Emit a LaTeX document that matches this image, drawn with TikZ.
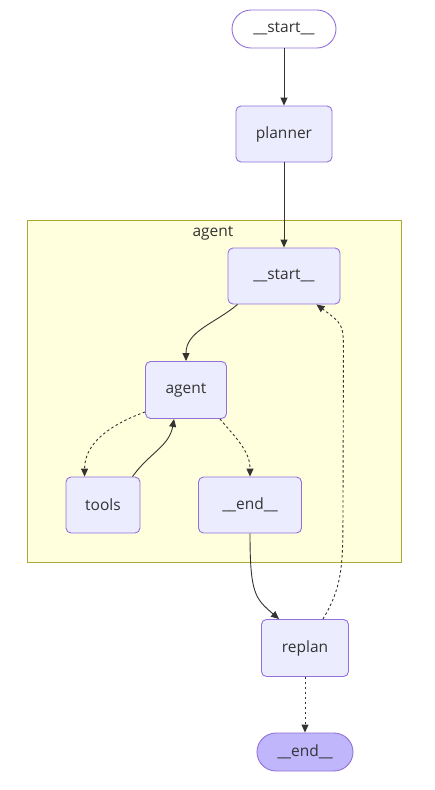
\documentclass[tikz,border=0pt]{standalone}
\usepackage{fontspec}
\setmainfont{Open Sans}
\usetikzlibrary{arrows.meta,calc,shapes.misc}
\definecolor{nodefill}{HTML}{ECECFF}
\definecolor{nodedraw}{HTML}{9370DB}
\definecolor{clfill}{HTML}{FFFFDE}
\definecolor{cldraw}{HTML}{AAAA33}
\definecolor{lastfill}{HTML}{BFB6FC}
\definecolor{edge}{HTML}{333333}
\tikzset{
  box/.style={draw=nodedraw, fill=nodefill, rounded corners=5pt, line width=0.9pt,
    minimum height=56pt, font=\fontsize{15.5}{18}\selectfont, text=edge, inner sep=0pt},
  pill/.style={draw=nodedraw, rounded rectangle, line width=0.9pt, minimum height=38pt,
    font=\fontsize{15.5}{18}\selectfont, text=edge, inner sep=0pt},
  conn/.style={draw=edge, line width=0.9pt, -{Triangle[length=8pt,width=7pt]}},
  dots/.style={conn, dash pattern=on 2.5pt off 2.5pt},
}
\begin{document}
\begin{tikzpicture}[x=1pt,y=-1pt]
\path[use as bounding box, fill=white] (0,0) rectangle (434,790);
% cluster
\node[draw=cldraw, fill=clfill, line width=0.9pt, minimum width=374pt, minimum height=342pt, inner sep=0pt] (cl) at (214,391) {};
\node[font=\fontsize{15.5}{18}\selectfont, text=edge] (cllab) at (213,233) {agent};
% nodes
\node[pill, fill=white, minimum width=104pt] (start) at (284,29) {\_\_start\_\_};
\node[box, minimum width=96pt] (planner) at (284,134) {planner};
\node[box, minimum width=112pt] (s2) at (284,276) {\_\_start\_\_};
\node[box, minimum width=81pt, minimum height=57pt] (agent) at (186,390) {agent};
\node[box, minimum width=74pt] (tools) at (103,505) {tools};
\node[box, minimum width=103pt] (e2) at (250,505) {\_\_end\_\_};
\node[box, minimum width=87pt, minimum height=57pt] (replan) at (305,648) {replan};
\node[pill, fill=lastfill, minimum width=96pt] (end) at (305,752) {\_\_end\_\_};
% edges
\draw[conn] (start.south) -- (planner.north);
\draw[conn] (planner.south) -- (s2.north);
\draw[conn] ($(s2.south west)+(10,0)$) to[out=-140,in=90] (agent.north);
\draw[dots] ($(agent.south west)+(0,-7)$) to[out=-160,in=90] ($(tools.north west)+(19,0)$);
\draw[conn] ($(tools.north west)+(67,0)$) to[out=55,in=-100] ($(agent.south west)+(29,0)$);
\draw[dots] ($(agent.south east)+(-7,0)$) to[out=-50,in=90] (e2.north);
\draw[conn] (e2.south) .. controls ($(e2.south)+(0,60)$) and ($(e2.south)+(5,65)$) .. ($(replan.north west)+(18,0)$);
\draw[dots] ($(replan.north east)+(-26,0)$) .. controls ($(replan.north east)+(-8,-30)$) and ($(replan.north east)+(-6,-50)$) .. ($(replan.north east)+(-6,-100)$)
  -- ($(s2.south east)+(3,50)$) .. controls ($(s2.south east)+(3,20)$) .. ($(s2.south east)+(-24,0)$);
\draw[dots] (replan.south) -- (end.north);
\end{tikzpicture}
\end{document}
